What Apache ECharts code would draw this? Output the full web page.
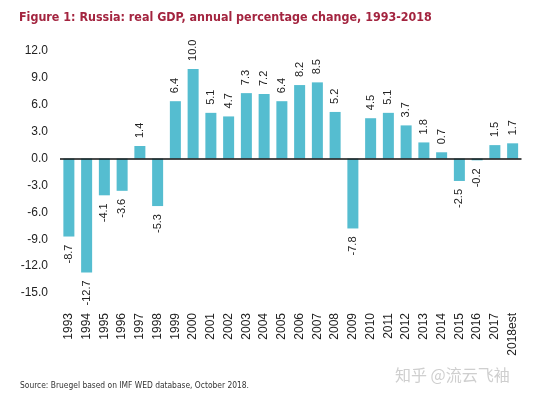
<!DOCTYPE html>
<html>
<head>
<meta charset="utf-8">
<script src="https://cdn.jsdelivr.net/npm/echarts@6/dist/echarts.min.js"></script>
<style>
html,body{margin:0;padding:0;background:#fff;}
#c{width:542px;height:394px;}
</style>
</head>
<body>
<div id="c"></div>
<script>
const categories = ['1993','1994','1995','1996','1997','1998','1999','2000','2001','2002','2003','2004','2005','2006','2007','2008','2009','2010','2011','2012','2013','2014','2015','2016','2017','2018est'];
const gdpChange = [-8.7,-12.7,-4.1,-3.6,1.4,-5.3,6.4,10.0,5.1,4.7,7.3,7.2,6.4,8.2,8.5,5.2,-7.8,4.5,5.1,3.7,1.8,0.7,-2.5,-0.2,1.5,1.7];
const yTicks = [-15, 12, 3];

const chart = echarts.init(document.getElementById('c'), null, {renderer:'canvas'});
const labelFont = 'Liberation Sans, Arial, sans-serif';
const data = gdpChange.map(v => ({
  value: v,
  label: v >= 0
    ? {position:'top', align:'left', verticalAlign:'middle'}
    : {position:'bottom', align:'right', verticalAlign:'middle'}
}));

chart.setOption({
  animation:false,
  backgroundColor:'#fff',
  title:[
    {text:'Figure 1: Russia: real GDP, annual percentage change, 1993-2018', left:14, top:7,
     textStyle:{fontFamily:'DejaVu Sans Condensed', fontWeight:'bold', fontSize:12.4, color:'#a3243f'}},
    {text:'Source: Bruegel based on IMF WED database, October 2018.', left:15, top:377,
     textStyle:{fontFamily:'DejaVu Sans Condensed', fontWeight:'normal', fontSize:8.4, color:'#333'}},
    {text:'知乎 @流云飞袖', left:390, top:362,
     textStyle:{fontFamily:'Noto Sans CJK SC, sans-serif', fontWeight:'normal', fontSize:16, color:'#cfcfcf'}}
  ],
  grid:{left:60, right:20.5, top:51, bottom:101},
  xAxis:{
    type:'category', data:categories, position:'bottom',
    axisLine:{show:false, onZero:false}, axisTick:{show:false},
    axisLabel:{rotate:90, interval:0, margin:20, fontFamily:labelFont, fontSize:12, color:'#222'}
  },
  yAxis:{
    type:'value', min:yTicks[0], max:yTicks[1], interval:yTicks[2],
    axisLine:{show:false}, axisTick:{show:false}, splitLine:{show:false},
    axisLabel:{margin:12, fontFamily:labelFont, fontSize:12, color:'#222', formatter: v => v.toFixed(1)}
  },
  series:[{
    type:'bar', data:data, barWidth:'62%',
    itemStyle:{color:'#55bdd0'},
    label:{show:true, rotate:90, distance:8, fontFamily:labelFont, fontSize:11, color:'#222',
      formatter: p => p.value.toFixed(1)},
    markLine:{silent:true, symbol:'none', label:{show:false},
      lineStyle:{color:'#111', type:'solid', width:1.5},
      data:[{yAxis:0}]}
  }]
});
</script>
</body>
</html>
